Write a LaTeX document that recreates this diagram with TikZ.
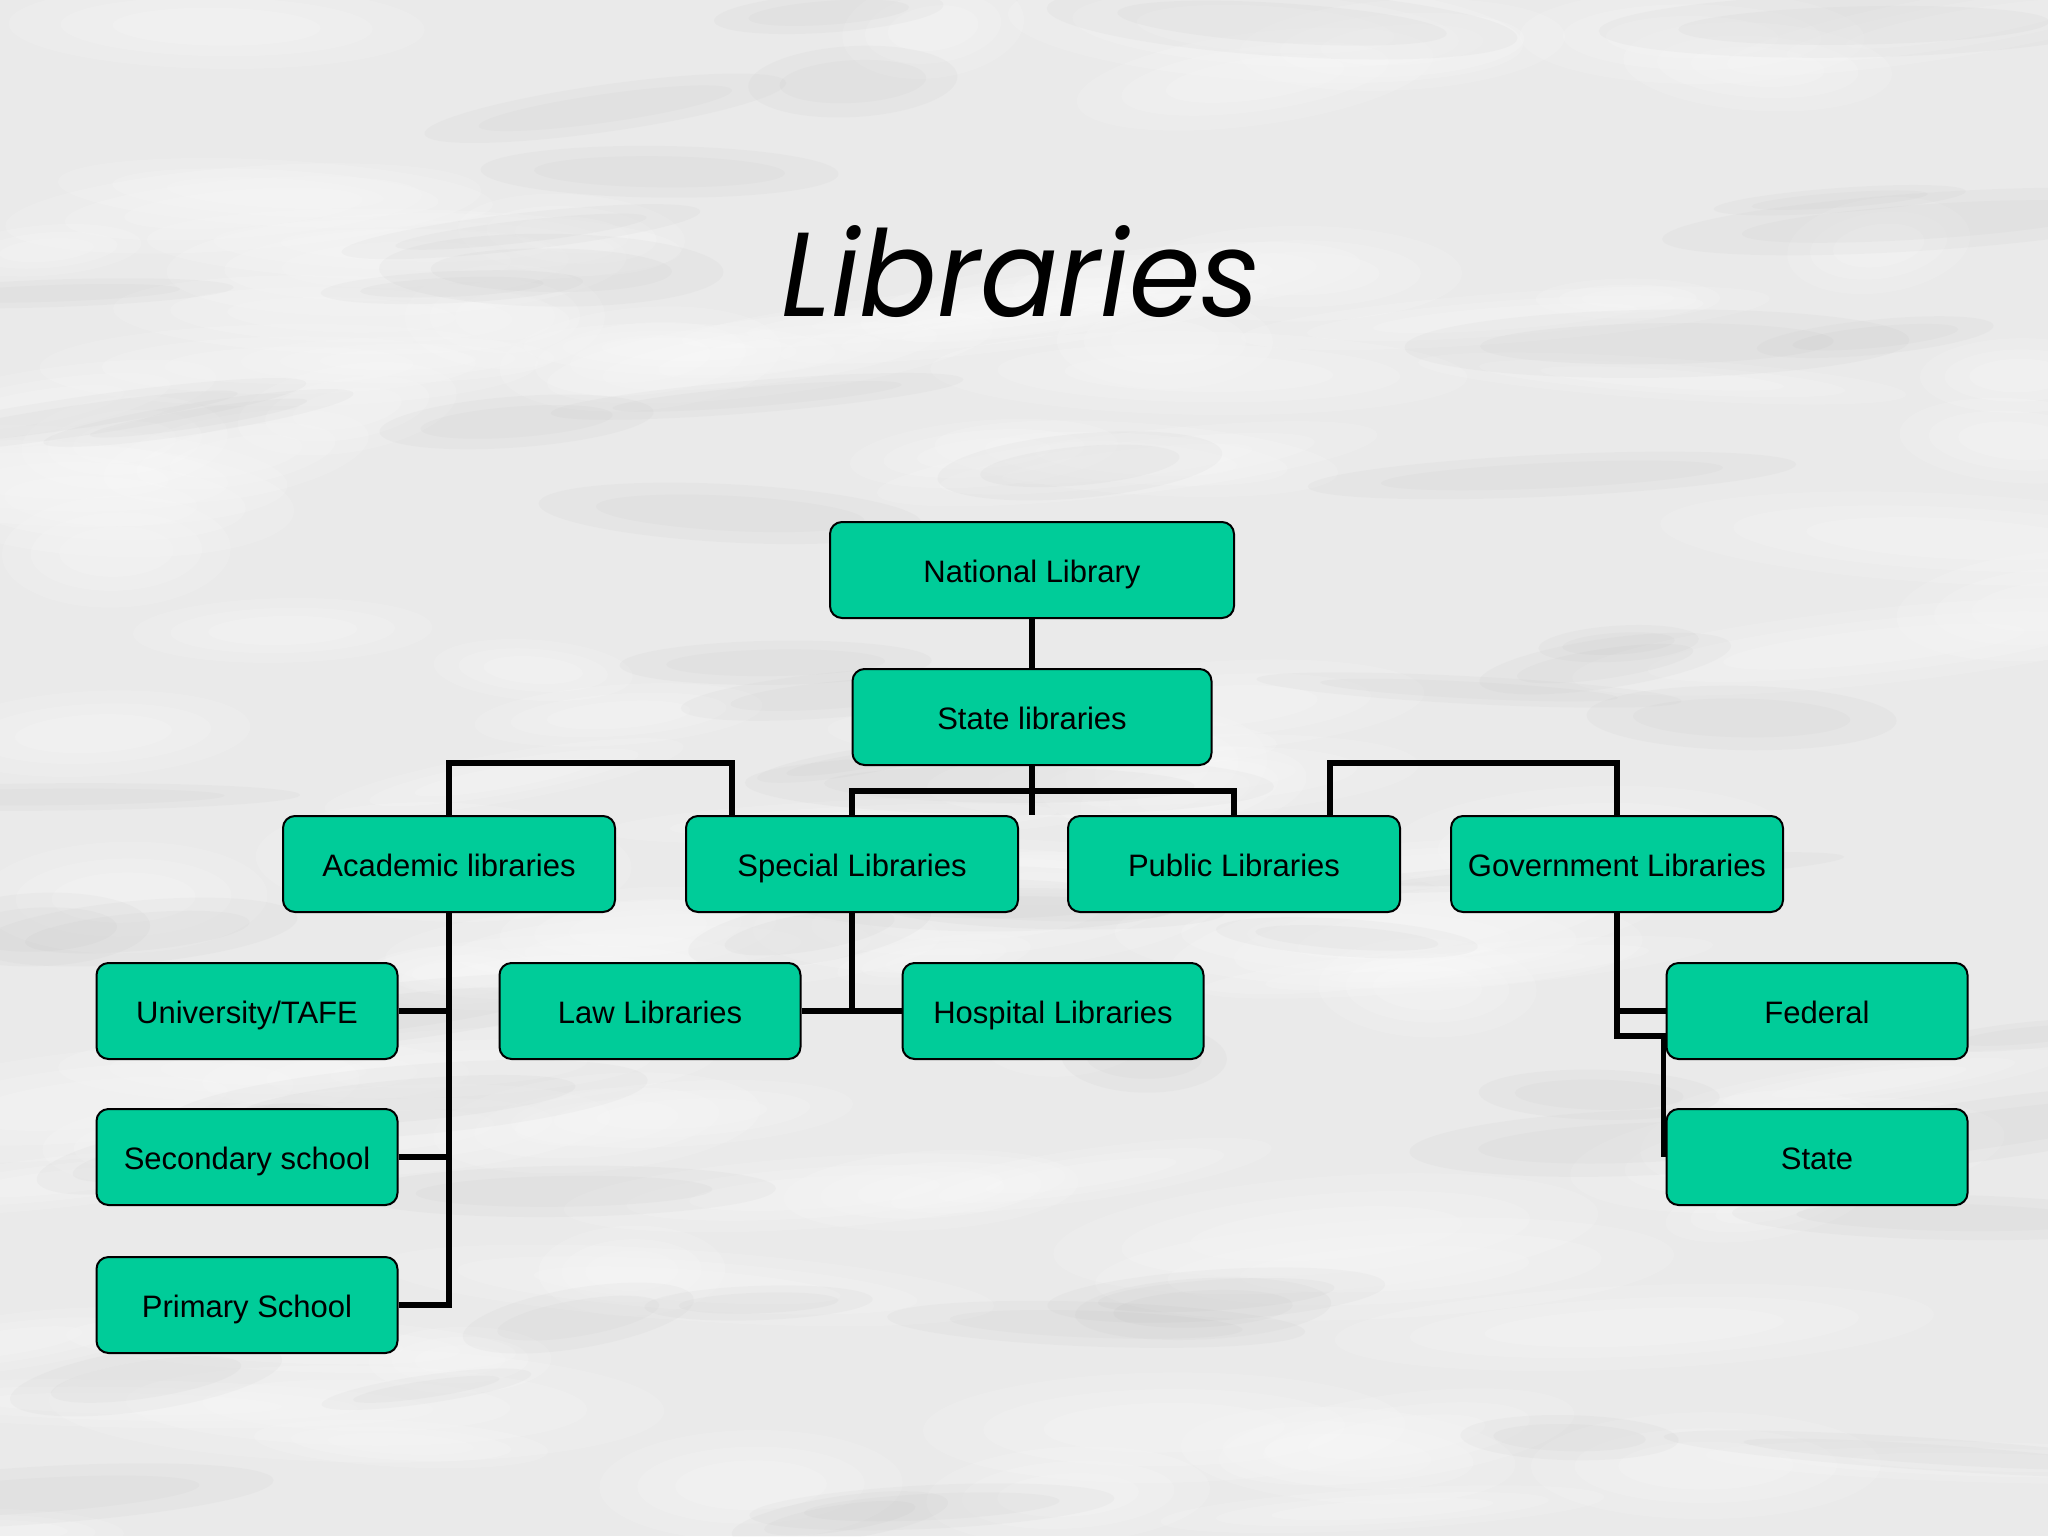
\documentclass[tikz,border=0pt]{standalone}
\usepackage{fontspec}
\setmainfont{Liberation Sans}
\newfontfamily\titlefont{Poppins}
\usetikzlibrary{calc}
\definecolor{boxgreen}{RGB}{0,204,153}
\definecolor{paper}{RGB}{234,234,234}
\begin{document}
\begin{tikzpicture}[x=0.5pt,y=-0.5pt,
  box/.style={draw=black,line width=1pt,fill=boxgreen,rounded corners=6pt,
    minimum height=48pt,inner sep=0pt,text height=12.5pt,text depth=0pt,
    font=\fontsize{15.5}{18}\selectfont},
  widebox/.style={box,minimum width=166pt},
  smallbox/.style={box,minimum width=150.5pt},
  conn/.style={draw=black,line width=2.6pt,line join=miter}]
% background paper
\fill[paper] (0,0) rectangle (2048,1536);
\useasboundingbox (0,0) rectangle (2048,1536);
\pgfmathsetseed{11}
\foreach \i in {1,...,110}{
  \pgfmathsetmacro\cx{rnd*2048}
  \pgfmathsetmacro\cy{rnd*1536}
  \pgfmathsetmacro\rx{90+rnd*220}
  \pgfmathsetmacro\ry{20+rnd*40}
  \pgfmathsetmacro\ang{-4+rnd*14}
  \fill[white,opacity=0.12] (\cx,\cy) ellipse [x radius=\rx, y radius=\ry, rotate=\ang];
  \fill[white,opacity=0.12] (\cx,\cy) ellipse [x radius=0.75*\rx, y radius=0.7*\ry, rotate=\ang];
  \fill[white,opacity=0.12] (\cx,\cy) ellipse [x radius=0.5*\rx, y radius=0.45*\ry, rotate=\ang];
}
\foreach \i in {1,...,60}{
  \pgfmathsetmacro\cx{rnd*2048}
  \pgfmathsetmacro\cy{rnd*1536}
  \pgfmathsetmacro\rx{80+rnd*200}
  \pgfmathsetmacro\ry{12+rnd*25}
  \pgfmathsetmacro\ang{-4+rnd*14}
  \fill[black!40,opacity=0.05] (\cx,\cy) ellipse [x radius=\rx, y radius=\ry, rotate=\ang];
  \fill[black!40,opacity=0.05] (\cx,\cy) ellipse [x radius=0.7*\rx, y radius=0.6*\ry, rotate=\ang];
}
% title
\node[anchor=base,inner sep=0pt] (title) at (1021,316)
  {\resizebox{239.5pt}{45.5pt}{\titlefont\itshape Libraries}};
% nodes
\node[box,minimum width=202pt] (nat) at (1032,570) {National Library};
\node[box,minimum width=179.5pt] (st) at (1032,717) {State libraries};
\node[widebox] (acad) at (449,864) {Academic libraries};
\node[widebox] (spec) at (852,864) {Special Libraries};
\node[widebox] (pub) at (1234,864) {Public Libraries};
\node[widebox] (gov) at (1617,864) {Government Libraries};
\node[smallbox] (univ) at (247,1011) {University/TAFE};
\node[smallbox] (law) at (650,1011) {Law Libraries};
\node[smallbox] (hosp) at (1053,1011) {Hospital Libraries};
\node[smallbox] (fed) at (1817,1011) {Federal};
\node[smallbox] (sec) at (247,1157) {Secondary school};
\node[smallbox] (stt) at (1817,1157) {State};
\node[smallbox] (prim) at (247,1305) {Primary School};
% connectors
\coordinate (bus) at (1032,791);
\coordinate (topbus) at (0,763);
\draw[conn] (nat) -- (st);
\draw[conn] (st.south) -- (st.south |- spec.north);
\draw[conn] (spec.north) -- (spec.north |- bus) -- (pub.north |- bus) -- (pub.north);
\coordinate (specT) at ($(spec.north west)+(47,0)$);
\coordinate (pubT) at ($(pub.north west)+(263,0)$);
\draw[conn] (acad.north) -- (acad.north |- topbus) -- (specT |- topbus) -- (specT);
\draw[conn] (pubT) -- (pubT |- topbus) -- (gov.north |- topbus) -- (gov.north);
\draw[conn] (acad.south) -- (acad.south |- prim.east) -- (prim.east);
\draw[conn] (univ.east) -- (univ.east -| acad.south);
\draw[conn] (sec.east) -- (sec.east -| acad.south);
\draw[conn] (spec.south) -- (spec.south |- law.east);
\draw[conn] (law.east) -- (hosp.west);
\draw[conn] (gov.south) -- ++(0,123) coordinate (gk) -- ($(gk -| fed.west)+(-2,0)$) -- ($(stt.west)+(-2,0)$);
\draw[conn] (gov.south |- fed.west) -- (fed.west);
\end{tikzpicture}
\end{document}
